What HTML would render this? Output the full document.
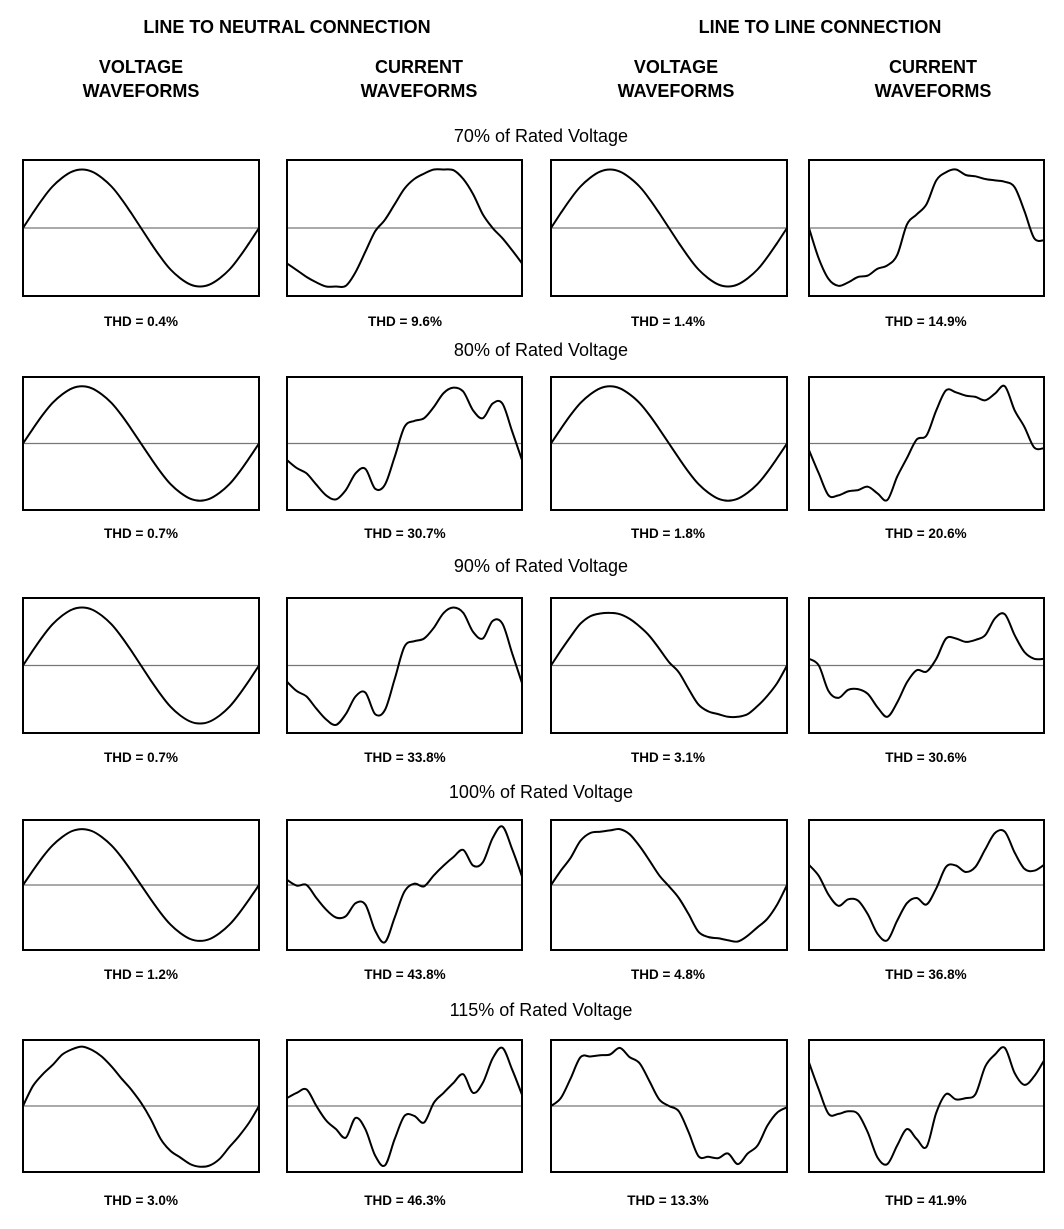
<!DOCTYPE html>
<html><head><meta charset="utf-8"><style>
body{margin:0;background:#fff}
svg{display:block}
text{font-family:"Liberation Sans",Arial,sans-serif;fill:#000}
.h{font-weight:bold;font-size:18px}
.s{font-size:18px}
.t{font-weight:bold;font-size:13.5px}
</style></head><body>
<svg id="fig" width="1064" height="1229" viewBox="0 0 1064 1229">
<text class="h" x="287" y="33" text-anchor="middle">LINE TO NEUTRAL CONNECTION</text>
<text class="h" x="820" y="33" text-anchor="middle">LINE TO LINE CONNECTION</text>
<g>
<text class="h" x="141" y="73" text-anchor="middle">VOLTAGE</text><text class="h" x="141" y="97" text-anchor="middle">WAVEFORMS</text>
<text class="h" x="419" y="73" text-anchor="middle">CURRENT</text><text class="h" x="419" y="97" text-anchor="middle">WAVEFORMS</text>
<text class="h" x="676" y="73" text-anchor="middle">VOLTAGE</text><text class="h" x="676" y="97" text-anchor="middle">WAVEFORMS</text>
<text class="h" x="933" y="73" text-anchor="middle">CURRENT</text><text class="h" x="933" y="97" text-anchor="middle">WAVEFORMS</text>
</g>
<g id="panels"></g>
</svg>
<script>
const sectionTitles=["70% of Rated Voltage","80% of Rated Voltage","90% of Rated Voltage","100% of Rated Voltage","115% of Rated Voltage"];
const thdLabels=[["THD = 0.4%","THD = 9.6%","THD = 1.4%","THD = 14.9%"],["THD = 0.7%","THD = 30.7%","THD = 1.8%","THD = 20.6%"],["THD = 0.7%","THD = 33.8%","THD = 3.1%","THD = 30.6%"],["THD = 1.2%","THD = 43.8%","THD = 4.8%","THD = 36.8%"],["THD = 3.0%","THD = 46.3%","THD = 13.3%","THD = 41.9%"]];
const sineV=[0,0.22,0.43,0.61,0.74,0.83,0.86,0.83,0.74,0.61,0.43,0.22,0,-0.22,-0.43,-0.61,-0.74,-0.83,-0.86,-0.83,-0.74,-0.61,-0.43,-0.22,0];
const v70ln=sineV, v80ln=sineV, v90ln=sineV, v100ln=sineV;
const v70ll=sineV, v80ll=sineV;
const i70ln=[-0.52,-0.62,-0.72,-0.8,-0.86,-0.86,-0.85,-0.65,-0.35,-0.05,0.12,0.35,0.58,0.72,0.8,0.86,0.86,0.85,0.72,0.5,0.2,0.0,-0.15,-0.33,-0.52];
const i70ll=[0,-0.45,-0.75,-0.85,-0.8,-0.72,-0.7,-0.6,-0.55,-0.4,0.05,0.2,0.35,0.7,0.82,0.86,0.78,0.76,0.72,0.7,0.68,0.6,0.25,-0.15,-0.18];
const i80ln=[-0.25,-0.37,-0.45,-0.62,-0.78,-0.84,-0.7,-0.45,-0.38,-0.68,-0.62,-0.2,0.25,0.34,0.38,0.55,0.76,0.84,0.78,0.5,0.38,0.6,0.6,0.18,-0.25];
const i80ll=[-0.1,-0.45,-0.78,-0.78,-0.72,-0.7,-0.65,-0.75,-0.85,-0.5,-0.22,0.06,0.12,0.5,0.8,0.77,0.72,0.7,0.65,0.75,0.86,0.5,0.25,-0.06,-0.07];
const i90ln=[-0.24,-0.38,-0.46,-0.64,-0.8,-0.88,-0.72,-0.46,-0.4,-0.72,-0.66,-0.2,0.28,0.36,0.4,0.56,0.78,0.86,0.78,0.5,0.4,0.66,0.62,0.18,-0.26];
const v90ll=[0,0.22,0.43,0.62,0.73,0.77,0.78,0.76,0.69,0.58,0.44,0.25,0.05,-0.1,-0.35,-0.58,-0.68,-0.72,-0.76,-0.76,-0.72,-0.6,-0.45,-0.26,0];
const i90ll=[0.1,0.0,-0.38,-0.48,-0.36,-0.35,-0.42,-0.62,-0.76,-0.55,-0.25,-0.07,-0.09,0.1,0.4,0.4,0.35,0.38,0.45,0.7,0.76,0.45,0.2,0.1,0.1];
const i100ln=[0.08,-0.01,0.0,-0.2,-0.38,-0.5,-0.48,-0.28,-0.3,-0.7,-0.88,-0.5,-0.1,0.02,-0.02,0.15,0.3,0.43,0.54,0.3,0.35,0.72,0.9,0.55,0.13];
const v100ll=[0,0.22,0.42,0.68,0.8,0.82,0.84,0.86,0.78,0.6,0.38,0.15,-0.02,-0.2,-0.45,-0.72,-0.8,-0.82,-0.85,-0.87,-0.78,-0.65,-0.52,-0.3,0];
const i100ll=[0.31,0.14,-0.15,-0.32,-0.22,-0.24,-0.45,-0.75,-0.85,-0.55,-0.28,-0.2,-0.3,-0.05,0.28,0.3,0.2,0.28,0.55,0.8,0.82,0.5,0.25,0.22,0.31];
const v115ln=[0,0.3,0.48,0.62,0.78,0.86,0.9,0.85,0.75,0.6,0.42,0.25,0.05,-0.2,-0.5,-0.68,-0.78,-0.88,-0.92,-0.9,-0.8,-0.62,-0.45,-0.25,0];
const i115ln=[0.12,0.2,0.25,0.0,-0.22,-0.35,-0.48,-0.18,-0.35,-0.75,-0.9,-0.5,-0.15,-0.15,-0.25,0.05,0.2,0.35,0.48,0.2,0.35,0.72,0.88,0.55,0.17];
const v115ll=[0,0.12,0.42,0.74,0.75,0.77,0.78,0.88,0.74,0.65,0.38,0.1,0.0,-0.08,-0.4,-0.76,-0.77,-0.79,-0.72,-0.88,-0.72,-0.6,-0.3,-0.1,-0.02];
const i115ll=[0.66,0.25,-0.12,-0.12,-0.08,-0.12,-0.4,-0.78,-0.88,-0.6,-0.35,-0.5,-0.62,-0.1,0.18,0.1,0.12,0.18,0.6,0.78,0.88,0.5,0.32,0.45,0.69];
const series=[[v70ln,i70ln,v70ll,i70ll],[v80ln,i80ln,v80ll,i80ll],[v90ln,i90ln,v90ll,i90ll],[v100ln,i100ln,v100ll,i100ll],[v115ln,i115ln,v115ll,i115ll]];
const colNames=["ln-voltage","ln-current","ll-voltage","ll-current"];

const rowTop=[160,377,598,820,1040], rowBot=[296,510,733,950,1172];
const colL=[23,287,551,809], colR=[259,522,787,1044];
const titleY=[142,356,572,798,1016], thdY=[326,538,762,979,1205];
const colC=[141,405,668,926];
const NS="http://www.w3.org/2000/svg";
const g=document.getElementById('panels');
function mk(t,a){const e=document.createElementNS(NS,t);for(const k in a)e.setAttribute(k,a[k]);return e;}
for(let r=0;r<5;r++){
  const st=mk('text',{x:541,y:titleY[r],'text-anchor':'middle',class:'s'});
  st.textContent=sectionTitles[r];
  
  
  g.appendChild(st);
  for(let c=0;c<4;c++){
    const x0=colL[c],x1=colR[c],y0=rowTop[r],y1=rowBot[r];
    const zy=(y0+y1)/2, half=(y1-y0)/2;
    const xs=i=>x0+(x1-x0)*i/(series[r][c].length-1);
    const ys=v=>zy-v*half;
    const pg=mk('g',{});
    
    
    const zl=mk('line',{x1:x0,x2:x1,y1:zy,y2:zy,stroke:'#777','stroke-width':1.2});
    
    
    pg.appendChild(zl);
    const d=series[r][c], n=d.length;
    const P=d.map((v,i)=>[xs(i),ys(v)]);
    let s='M'+P[0][0].toFixed(1)+','+P[0][1].toFixed(1);
    for(let i=0;i<n-1;i++){
      const p0=P[Math.max(0,i-1)],p1=P[i],p2=P[i+1],p3=P[Math.min(n-1,i+2)];
      const c1=[p1[0]+(p2[0]-p0[0])/6,p1[1]+(p2[1]-p0[1])/6];
      const c2=[p2[0]-(p3[0]-p1[0])/6,p2[1]-(p3[1]-p1[1])/6];
      s+='C'+c1[0].toFixed(1)+','+c1[1].toFixed(1)+' '+c2[0].toFixed(1)+','+c2[1].toFixed(1)+' '+p2[0].toFixed(1)+','+p2[1].toFixed(1);
    }
    const path=mk('path',{d:s,fill:'none',stroke:'#000','stroke-width':2,'stroke-linejoin':'round'});
    
    
    pg.appendChild(path);
    const box=mk('rect',{x:x0,y:y0,width:x1-x0,height:y1-y0,fill:'none',stroke:'#000','stroke-width':2});
    
    
    pg.appendChild(box);
    const tl=mk('text',{x:colC[c],y:thdY[r],'text-anchor':'middle',class:'t'});
    tl.textContent=thdLabels[r][c];
    
    
    pg.appendChild(tl);
    g.appendChild(pg);
  }
}
</script>
</body></html>
